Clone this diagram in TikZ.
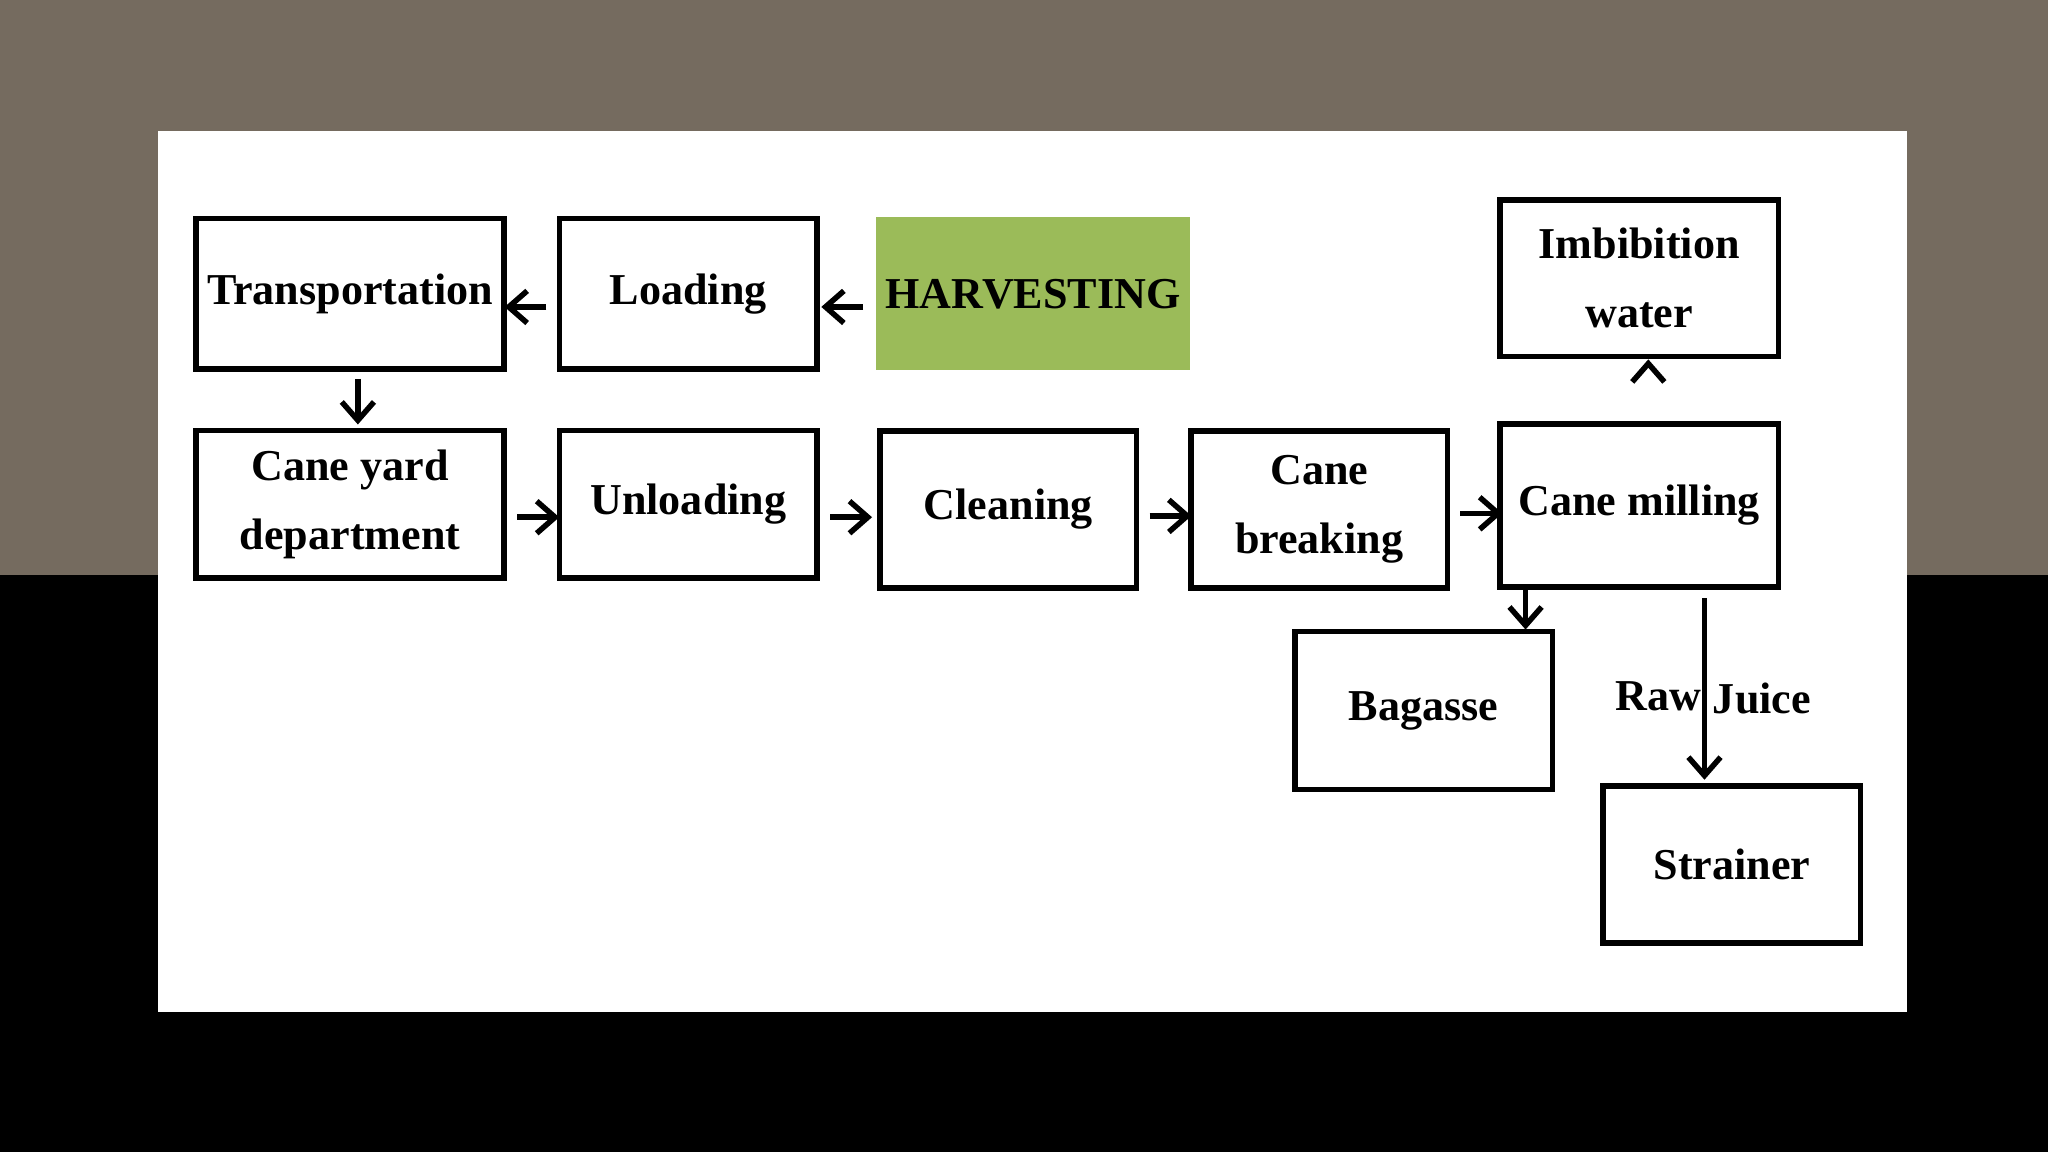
\documentclass[tikz,border=0pt]{standalone}
\usepackage{fontspec}
\setmainfont{Liberation Serif}
\usetikzlibrary{arrows.meta}
\definecolor{topgray}{HTML}{756B5F}
\definecolor{harv}{HTML}{9BBB59}
\begin{document}
\begin{tikzpicture}[x=0.01cm,y=-0.01cm,
  bx/.style={draw,line width=1.2pt,align=center,font=\bfseries\fontsize{9.6}{15}\selectfont,inner sep=0pt},
  ar/.style={line width=1.2pt,-{Straight Barb[length=4pt,width=7pt,line width=1.2pt]}}]
\useasboundingbox (0,0) rectangle (1568,882);
\fill[black] (0,0) rectangle (1568,882);
\fill[topgray] (0,0) rectangle (1568,440);
\fill[white] (121,100) rectangle (1460,775);
\newcommand{\bxat}[6]{\node[bx,#6,minimum width={(#3-#1)*0.01cm},minimum height={(#4-#2)*0.01cm}] (#5) at ({(#1+#3)/2},{(#2+#4)/2}) {};}
\node[bx,minimum width=2.36cm,minimum height=1.15cm] (tr) at (268,225) {Transportation};
\node[bx,minimum width=1.97cm,minimum height=1.15cm] (lo) at (527,225) {Loading};
\node[bx,draw=none,fill=harv,minimum width=2.40cm,minimum height=1.17cm] (ha) at (791,225) {HARVESTING};
\node[bx,minimum width=2.13cm,minimum height=1.20cm] (im) at (1255,213) {Imbibition\\water};
\node[bx,minimum width=2.36cm,minimum height=1.13cm] (cy) at (268,386) {Cane yard\\department};
\node[bx,minimum width=1.97cm,minimum height=1.13cm] (un) at (527,386) {Unloading};
\node[bx,minimum width=1.96cm,minimum height=1.20cm] (cl) at (772,390) {Cleaning};
\node[bx,minimum width=1.96cm,minimum height=1.20cm] (cb) at (1010,390) {Cane\\breaking};
\node[bx,minimum width=2.13cm,minimum height=1.25cm] (cm) at (1255,387) {Cane milling};
\node[bx,minimum width=1.97cm,minimum height=1.21cm] (ba) at (1090,544) {Bagasse};
\node[bx,minimum width=1.97cm,minimum height=1.20cm] (st) at (1326,662) {Strainer};
\draw[ar] (ha.west) ++(-8,10) -- ++(-32,0);
\draw[ar] (lo.west) ++(-8,10) -- ++(-32,0);
\draw[ar] (274,290) -- (274,325);
\draw[ar] (cy.east) ++(8,10) -- ++(32,0);
\draw[ar] (un.east) ++(8,10) -- ++(32,0);
\draw[ar] (cl.east) ++(8,5) -- ++(32,0);
\draw[ar] (cb.east) ++(8,3) -- ++(32,0);
\draw[ar] (1262,281) -- (im.south -| 1262,317);
\draw[ar] (1168,450) -- (1168,482);
\coordinate (rj) at (1305,458);
\draw[ar] (rj) -- (1305,597);
\node[font=\bfseries\fontsize{9.6}{12}\selectfont] (raw) at (1270,533) {Raw};
\node[font=\bfseries\fontsize{9.6}{12}\selectfont] (juice) at (1349,535) {Juice};
\end{tikzpicture}
\end{document}
